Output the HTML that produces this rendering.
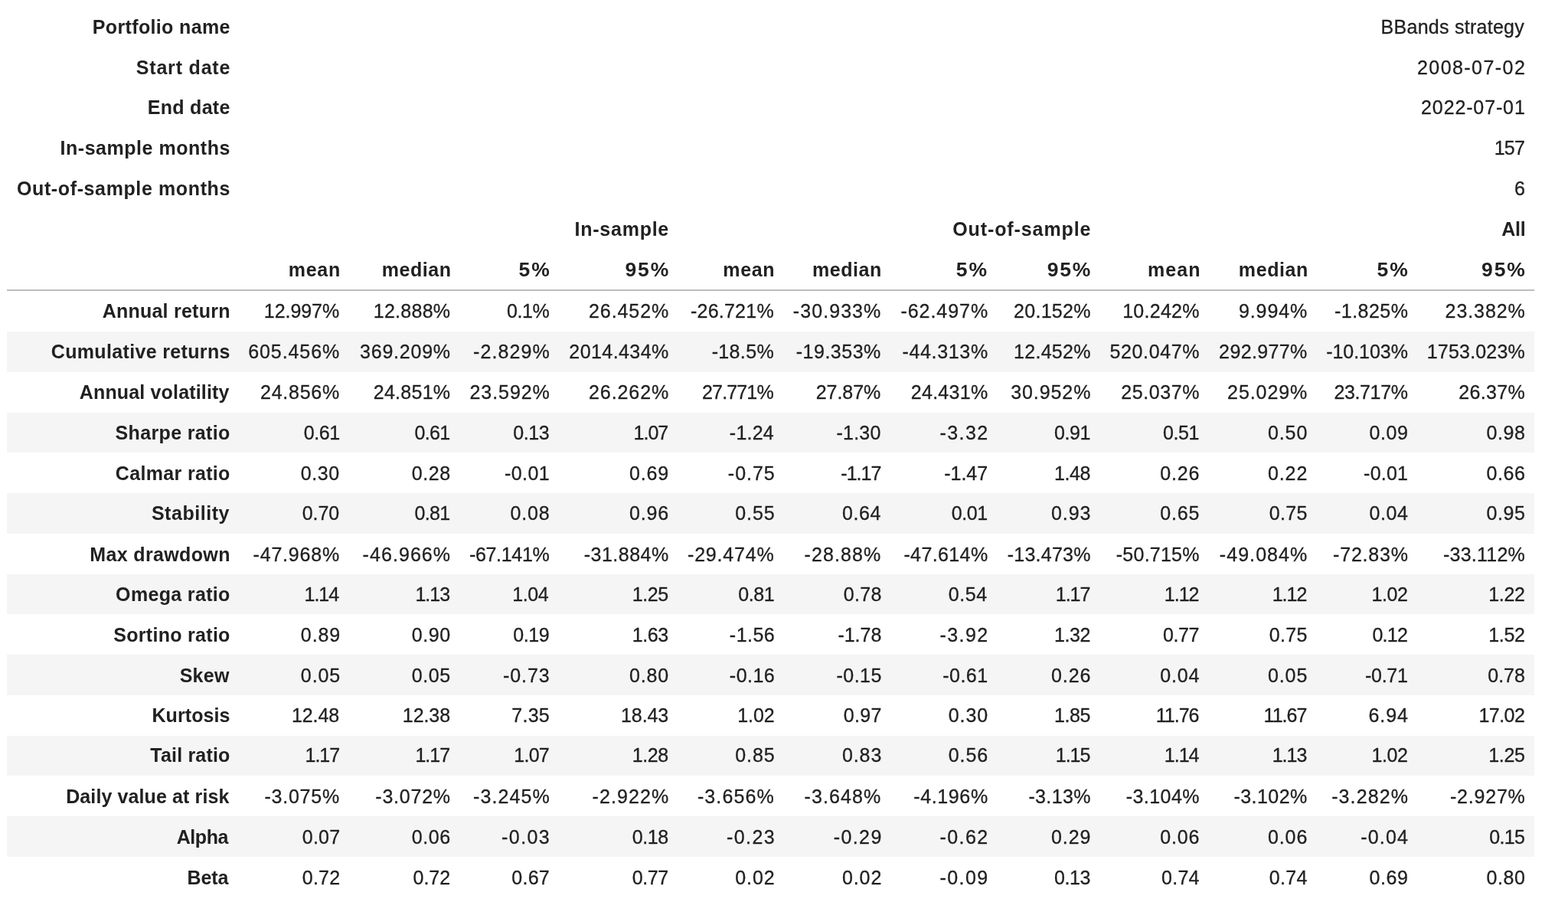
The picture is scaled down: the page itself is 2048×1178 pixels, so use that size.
<!DOCTYPE html>
<html lang="en"><head><meta charset="utf-8"><title>Performance statistics</title>
<style>
html,body{margin:0;padding:0;background:#fff;}
body{width:2048px;height:1178px;overflow:hidden;position:relative;font-family:"Liberation Sans",Arial,sans-serif;color:#212121;}
table{position:absolute;left:9.4px;top:9px;border-collapse:separate;border-spacing:0;table-layout:fixed;width:1995.0px;}
td,th{--l:0px;--r:0px;letter-spacing:var(--l);padding:var(--b) calc(13px - var(--l) - var(--r)) 0 0;height:52.75px;line-height:28.75px;text-align:right;vertical-align:top;white-space:nowrap;overflow:visible;box-sizing:border-box;}
th{font-weight:bold;font-size:25.0px;}
td,th.v{font-weight:normal;font-size:25.0px;padding-top:var(--g);-webkit-text-stroke:0.3px #212121;}
th.p{font-size:26.5px;padding-top:calc(var(--b) + 0.0px);}
thead tr.last th{border-bottom:2px solid #bdbdbd;height:54.75px;}
tbody tr:nth-child(even){background:#f5f5f5;}
</style></head><body>
<table>
<colgroup>
<col style="width:302.8px">
<col style="width:144.1px">
<col style="width:144.2px">
<col style="width:129.4px">
<col style="width:155.7px">
<col style="width:137.7px">
<col style="width:139.9px">
<col style="width:138.9px">
<col style="width:134.6px">
<col style="width:142.1px">
<col style="width:140.9px">
<col style="width:131.8px">
<col style="width:152.9px">
</colgroup><thead>
<tr style="--b:12.0px;--g:12.0px"><th style="--l:0.35px;--r:1.2px">Portfolio name</th><th class="v" colspan="12" style="--l:0.27px;--r:-0.6px">BBands strategy</th></tr>
<tr style="--b:12.25px;--g:12.25px"><th style="--l:0.81px;--r:1.2px">Start date</th><th class="v" colspan="12" style="--l:1.44px;--r:0.4px">2008-07-02</th></tr>
<tr style="--b:11.5px;--g:11.5px"><th style="--l:0.29px;--r:1.2px">End date</th><th class="v" colspan="12" style="--l:0.87px;--r:0.4px">2022-07-01</th></tr>
<tr style="--b:11.75px;--g:11.75px"><th style="--l:0.53px;--r:1.2px">In-sample months</th><th class="v" colspan="12" style="--l:-0.85px;--r:0.4px">157</th></tr>
<tr style="--b:12.0px;--g:12.0px"><th style="--l:0.62px;--r:1.2px">Out-of-sample months</th><th class="v" colspan="12" style="--l:0px;--r:0.4px">6</th></tr>
<tr style="--b:12.25px;--g:12.25px"><th></th><th colspan="4" style="--l:0.75px;--r:0.7px">In-sample</th><th colspan="4" style="--l:0.89px;--r:0.8px">Out-of-sample</th><th colspan="4" style="--l:-0.15px;--r:1.4px">All</th></tr>
<tr class="last" style="--b:12.5px;--g:12.5px"><th></th><th style="--l:0.7px;--r:0.9px">mean</th><th style="--l:0.58px;--r:1.6px">median</th><th class="p" style="--l:2.0px;--r:0.9px">5%</th><th class="p" style="--l:1.85px;--r:0.7px">95%</th><th style="--l:0.7px;--r:1.4px">mean</th><th style="--l:0.58px;--r:1.2px">median</th><th class="p" style="--l:2.0px;--r:0.1px">5%</th><th class="p" style="--l:1.85px;--r:0.8px">95%</th><th style="--l:1.03px;--r:1.8px">mean</th><th style="--l:0.58px;--r:1.7px">median</th><th class="p" style="--l:2.0px;--r:0.5px">5%</th><th class="p" style="--l:1.85px;--r:0.4px">95%</th></tr>
</thead><tbody>
<tr style="--b:11.75px;--g:11.75px"><th style="--l:0.24px;--r:1.2px">Annual return</th><td style="--l:-0.05px;--r:-0.1px">12.997%</td><td style="--l:0.27px;--r:0.6px">12.888%</td><td style="--l:-0.37px;--r:0.9px">0.1%</td><td style="--l:0.92px;--r:0.7px">26.452%</td><td style="--l:0.24px;--r:0.4px">-26.721%</td><td style="--l:1.07px;--r:0.2px">-30.933%</td><td style="--l:0.94px;--r:1.1px">-62.497%</td><td style="--l:0.27px;--r:0.8px">20.152%</td><td style="--l:0.27px;--r:0.8px">10.242%</td><td style="--l:0.92px;--r:0.7px">9.994%</td><td style="--l:0.45px;--r:0.5px">-1.825%</td><td style="--l:0.92px;--r:0.4px">23.382%</td></tr>
<tr style="--b:12.0px;--g:12.0px"><th style="--l:0.34px;--r:1.2px">Cumulative returns</th><td style="--l:0.91px;--r:-0.1px">605.456%</td><td style="--l:0.77px;--r:0.6px">369.209%</td><td style="--l:1.1px;--r:0.9px">-2.829%</td><td style="--l:0.43px;--r:0.7px">2014.434%</td><td style="--l:0.36px;--r:0.4px">-18.5%</td><td style="--l:0.51px;--r:0.2px">-19.353%</td><td style="--l:0.66px;--r:1.1px">-44.313%</td><td style="--l:0.27px;--r:0.8px">12.452%</td><td style="--l:0.64px;--r:0.8px">520.047%</td><td style="--l:0.37px;--r:0.7px">292.977%</td><td style="--l:-0.04px;--r:0.5px">-10.103%</td><td style="--l:0.19px;--r:0.4px">1753.023%</td></tr>
<tr style="--b:12.25px;--g:12.25px"><th style="--l:0.16px;--r:0.2px">Annual volatility</th><td style="--l:0.75px;--r:-0.1px">24.856%</td><td style="--l:0.27px;--r:0.6px">24.851%</td><td style="--l:0.92px;--r:0.9px">23.592%</td><td style="--l:0.92px;--r:0.7px">26.262%</td><td style="--l:-0.85px;--r:0.4px">27.771%</td><td style="--l:-0.04px;--r:0.2px">27.87%</td><td style="--l:0.27px;--r:1.1px">24.431%</td><td style="--l:0.92px;--r:0.8px">30.952%</td><td style="--l:0.6px;--r:0.8px">25.037%</td><td style="--l:0.92px;--r:0.7px">25.029%</td><td style="--l:-0.37px;--r:0.5px">23.717%</td><td style="--l:0.34px;--r:0.4px">26.37%</td></tr>
<tr style="--b:12.5px;--g:12.5px"><th style="--l:0.36px;--r:1.2px">Sharpe ratio</th><td style="--l:-0.4px;--r:0.9px">0.61</td><td style="--l:-0.73px;--r:0.6px">0.61</td><td style="--l:-0.4px;--r:0.9px">0.13</td><td style="--l:-1.0px;--r:0.7px">1.07</td><td style="--l:0.2px;--r:0.4px">-1.24</td><td style="--l:0.2px;--r:0.2px">-1.30</td><td style="--l:1.42px;--r:1.1px">-3.32</td><td style="--l:-0.4px;--r:0.8px">0.91</td><td style="--l:-0.4px;--r:0.8px">0.51</td><td style="--l:0.9px;--r:0.7px">0.50</td><td style="--l:0.57px;--r:0.5px">0.09</td><td style="--l:0.57px;--r:0.4px">0.98</td></tr>
<tr style="--b:12.75px;--g:12.75px"><th style="--l:0.33px;--r:1.2px">Calmar ratio</th><td style="--l:0.57px;--r:-0.1px">0.30</td><td style="--l:0.57px;--r:0.6px">0.28</td><td style="--l:0.45px;--r:0.9px">-0.01</td><td style="--l:0.9px;--r:0.7px">0.69</td><td style="--l:0.95px;--r:1.4px">-0.75</td><td style="--l:-1.0px;--r:1.2px">-1.17</td><td style="--l:-0.03px;--r:1.1px">-1.47</td><td style="--l:-0.4px;--r:0.8px">1.48</td><td style="--l:0.9px;--r:0.8px">0.26</td><td style="--l:0.9px;--r:0.7px">0.22</td><td style="--l:0.2px;--r:0.5px">-0.01</td><td style="--l:0.57px;--r:0.4px">0.66</td></tr>
<tr style="--b:12.0px;--g:12.0px"><th style="--l:0.53px;--r:0.2px">Stability</th><td style="--l:-0.07px;--r:-0.1px">0.70</td><td style="--l:-0.73px;--r:0.6px">0.81</td><td style="--l:0.9px;--r:0.9px">0.08</td><td style="--l:0.9px;--r:0.7px">0.96</td><td style="--l:0.9px;--r:1.4px">0.55</td><td style="--l:0.57px;--r:0.2px">0.64</td><td style="--l:-0.4px;--r:1.1px">0.01</td><td style="--l:0.9px;--r:0.8px">0.93</td><td style="--l:0.9px;--r:0.8px">0.65</td><td style="--l:0.27px;--r:0.7px">0.75</td><td style="--l:0.57px;--r:0.5px">0.04</td><td style="--l:0.57px;--r:0.4px">0.95</td></tr>
<tr style="--b:13.25px;--g:13.25px"><th style="--l:0.35px;--r:1.2px">Max drawdown</th><td style="--l:0.8px;--r:-0.1px">-47.968%</td><td style="--l:1.07px;--r:0.6px">-46.966%</td><td style="--l:-0.31px;--r:0.9px">-67.141%</td><td style="--l:0.51px;--r:0.7px">-31.884%</td><td style="--l:0.8px;--r:0.4px">-29.474%</td><td style="--l:1.1px;--r:0.2px">-28.88%</td><td style="--l:0.39px;--r:1.1px">-47.614%</td><td style="--l:0.24px;--r:0.8px">-13.473%</td><td style="--l:0.24px;--r:0.8px">-50.715%</td><td style="--l:1.07px;--r:0.7px">-49.084%</td><td style="--l:0.78px;--r:0.5px">-72.83%</td><td style="--l:0.24px;--r:0.4px">-33.112%</td></tr>
<tr style="--b:12.5px;--g:12.5px"><th style="--l:0.34px;--r:1.2px">Omega ratio</th><td style="--l:-1.0px;--r:-0.1px">1.14</td><td style="--l:-1.0px;--r:0.6px">1.13</td><td style="--l:-0.4px;--r:-0.1px">1.04</td><td style="--l:-0.4px;--r:0.7px">1.25</td><td style="--l:-0.4px;--r:1.4px">0.81</td><td style="--l:0.27px;--r:1.2px">0.78</td><td style="--l:0.57px;--r:0.1px">0.54</td><td style="--l:-1.0px;--r:0.8px">1.17</td><td style="--l:-1.0px;--r:0.8px">1.12</td><td style="--l:-1.0px;--r:0.7px">1.12</td><td style="--l:-0.4px;--r:0.5px">1.02</td><td style="--l:-0.4px;--r:0.4px">1.22</td></tr>
<tr style="--b:12.75px;--g:12.75px"><th style="--l:0.29px;--r:1.2px">Sortino ratio</th><td style="--l:0.9px;--r:0.9px">0.89</td><td style="--l:0.57px;--r:0.6px">0.90</td><td style="--l:-0.4px;--r:0.9px">0.19</td><td style="--l:-0.4px;--r:0.7px">1.63</td><td style="--l:0.45px;--r:1.4px">-1.56</td><td style="--l:-0.03px;--r:1.2px">-1.78</td><td style="--l:1.42px;--r:1.1px">-3.92</td><td style="--l:-0.4px;--r:0.8px">1.32</td><td style="--l:-0.37px;--r:0.8px">0.77</td><td style="--l:0.27px;--r:0.7px">0.75</td><td style="--l:-0.73px;--r:0.5px">0.12</td><td style="--l:-0.4px;--r:0.4px">1.52</td></tr>
<tr style="--b:13.0px;--g:13.0px"><th style="--l:0.27px;--r:0.2px">Skew</th><td style="--l:0.9px;--r:0.9px">0.05</td><td style="--l:0.57px;--r:0.6px">0.05</td><td style="--l:0.95px;--r:0.9px">-0.73</td><td style="--l:0.9px;--r:0.7px">0.80</td><td style="--l:0.45px;--r:1.4px">-0.16</td><td style="--l:0.45px;--r:1.2px">-0.15</td><td style="--l:0.45px;--r:1.1px">-0.61</td><td style="--l:0.9px;--r:0.8px">0.26</td><td style="--l:0.9px;--r:0.8px">0.04</td><td style="--l:0.9px;--r:0.7px">0.05</td><td style="--l:-0.28px;--r:0.5px">-0.71</td><td style="--l:-0.07px;--r:0.4px">0.78</td></tr>
<tr style="--b:12.25px;--g:12.25px"><th style="--l:0.07px;--r:1.2px">Kurtosis</th><td style="--l:-0.08px;--r:-0.1px">12.48</td><td style="--l:-0.08px;--r:0.6px">12.38</td><td style="--l:0.27px;--r:0.9px">7.35</td><td style="--l:-0.08px;--r:0.7px">18.43</td><td style="--l:-0.07px;--r:1.4px">1.02</td><td style="--l:0.27px;--r:1.2px">0.97</td><td style="--l:0.9px;--r:1.1px">0.30</td><td style="--l:-0.4px;--r:0.8px">1.85</td><td style="--l:-1.0px;--r:0.8px">11.76</td><td style="--l:-1.0px;--r:0.7px">11.67</td><td style="--l:0.9px;--r:0.5px">6.94</td><td style="--l:-0.55px;--r:0.4px">17.02</td></tr>
<tr style="--b:11.5px;--g:11.5px"><th style="--l:0.19px;--r:1.2px">Tail ratio</th><td style="--l:-1.0px;--r:0.9px">1.17</td><td style="--l:-1.0px;--r:0.6px">1.17</td><td style="--l:-0.7px;--r:0.9px">1.07</td><td style="--l:-0.4px;--r:0.7px">1.28</td><td style="--l:0.9px;--r:1.4px">0.85</td><td style="--l:0.9px;--r:1.2px">0.83</td><td style="--l:0.9px;--r:1.1px">0.56</td><td style="--l:-1.0px;--r:0.8px">1.15</td><td style="--l:-1.0px;--r:0.8px">1.14</td><td style="--l:-1.0px;--r:0.7px">1.13</td><td style="--l:-0.4px;--r:0.5px">1.02</td><td style="--l:-0.4px;--r:0.4px">1.25</td></tr>
<tr style="--b:12.75px;--g:12.75px"><th style="--l:0.11px;--r:0.2px">Daily value at risk</th><td style="--l:0.78px;--r:-0.1px">-3.075%</td><td style="--l:0.78px;--r:0.6px">-3.072%</td><td style="--l:1.1px;--r:0.9px">-3.245%</td><td style="--l:1.1px;--r:0.7px">-2.922%</td><td style="--l:1.1px;--r:0.4px">-3.656%</td><td style="--l:1.1px;--r:0.2px">-3.648%</td><td style="--l:0.62px;--r:1.1px">-4.196%</td><td style="--l:0.36px;--r:0.8px">-3.13%</td><td style="--l:0.45px;--r:0.8px">-3.104%</td><td style="--l:0.45px;--r:0.7px">-3.102%</td><td style="--l:1.1px;--r:0.5px">-3.282%</td><td style="--l:0.78px;--r:0.4px">-2.927%</td></tr>
<tr style="--b:13.0px;--g:13.0px"><th style="--l:-0.43px;--r:-0.8px">Alpha</th><td style="--l:0.27px;--r:0.9px">0.07</td><td style="--l:0.57px;--r:0.6px">0.06</td><td style="--l:1.42px;--r:0.9px">-0.03</td><td style="--l:-0.4px;--r:0.7px">0.18</td><td style="--l:1.42px;--r:1.4px">-0.23</td><td style="--l:1.42px;--r:1.2px">-0.29</td><td style="--l:1.42px;--r:1.1px">-0.62</td><td style="--l:0.9px;--r:0.8px">0.29</td><td style="--l:0.9px;--r:0.8px">0.06</td><td style="--l:0.9px;--r:0.7px">0.06</td><td style="--l:1.17px;--r:0.5px">-0.04</td><td style="--l:-0.73px;--r:0.4px">0.15</td></tr>
<tr style="--b:13.25px;--g:13.25px"><th style="--l:-0.1px;--r:-0.8px">Beta</th><td style="--l:0.27px;--r:0.9px">0.72</td><td style="--l:-0.07px;--r:0.6px">0.72</td><td style="--l:0.27px;--r:0.9px">0.67</td><td style="--l:-0.37px;--r:0.7px">0.77</td><td style="--l:0.9px;--r:1.4px">0.02</td><td style="--l:0.9px;--r:1.2px">0.02</td><td style="--l:1.42px;--r:1.1px">-0.09</td><td style="--l:-0.4px;--r:0.8px">0.13</td><td style="--l:0.27px;--r:0.8px">0.74</td><td style="--l:0.27px;--r:0.7px">0.74</td><td style="--l:0.57px;--r:0.5px">0.69</td><td style="--l:0.57px;--r:0.4px">0.80</td></tr>
</tbody></table></body></html>
